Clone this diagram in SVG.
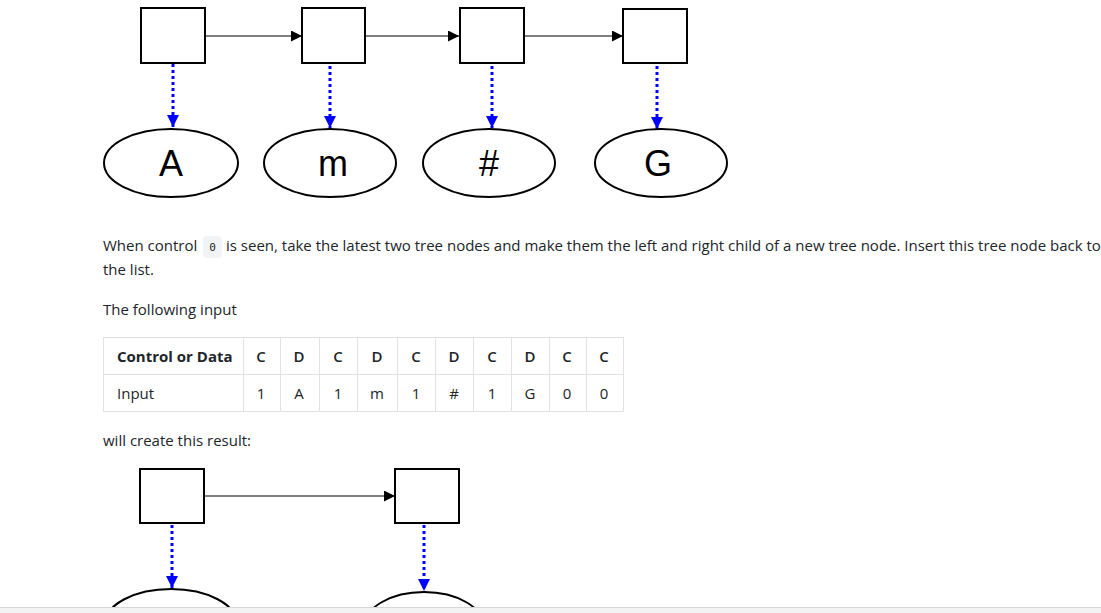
<svg xmlns="http://www.w3.org/2000/svg" width="1101" height="613" viewBox="0 0 1101 613">
<style>
.box{fill:#fff;stroke:#000;stroke-width:2}
.ell{fill:#fff;stroke:#000;stroke-width:2}
.lbl{font-family:"Liberation Sans",Arial,sans-serif;font-size:36px;text-anchor:middle;fill:#000}
.nx{stroke:#000;stroke-width:1.2;fill:none}
.dt{stroke:#00f;stroke-width:3;stroke-dasharray:3,3;fill:none}
.p{font-family:"Open Sans","Noto Sans",sans-serif;font-size:15px;fill:#212529}
.tc{font-family:"Open Sans","Noto Sans",sans-serif;font-size:15px;fill:#212529;text-anchor:middle}
.grid{stroke:#dee2e6;stroke-width:1;fill:none}
</style>
<defs>
<marker id="ab" viewBox="0 0 10 10" refX="10" refY="5" markerWidth="11" markerHeight="11" markerUnits="userSpaceOnUse" orient="auto"><path d="M0,0L10,5L0,10z" fill="#000"/></marker>
<marker id="bb" viewBox="0 0 10 10" refX="10" refY="5" markerWidth="12" markerHeight="12" markerUnits="userSpaceOnUse" orient="auto"><path d="M0,0L10,5L0,10z" fill="#00f"/></marker>
</defs>
<rect width="1101" height="613" fill="#fff"/>
<g id="connectors">
<line class="nx" x1="205" y1="36" x2="302" y2="36" marker-end="url(#ab)"/>
<line class="nx" x1="365" y1="36" x2="459" y2="36" marker-end="url(#ab)"/>
<line class="nx" x1="524" y1="36" x2="623" y2="36" marker-end="url(#ab)"/>
<line class="dt" x1="173" y1="64" x2="173" y2="127" marker-end="url(#bb)"/>
<line class="dt" x1="330" y1="66" x2="330" y2="128" marker-end="url(#bb)"/>
<line class="dt" x1="492" y1="66" x2="492" y2="128" marker-end="url(#bb)"/>
<line class="dt" x1="657" y1="66" x2="657" y2="129" marker-end="url(#bb)"/>
<line class="nx" x1="204" y1="496" x2="395" y2="496" marker-end="url(#ab)"/>
<line class="dt" x1="172" y1="525" x2="172" y2="588" marker-end="url(#bb)"/>
<line class="dt" x1="424" y1="525" x2="424" y2="591" marker-end="url(#bb)"/>
</g>
<g id="n1"><rect class="box" x="141" y="8" width="64" height="55"/></g>
<g id="n2"><rect class="box" x="302" y="8" width="63" height="55"/></g>
<g id="n3"><rect class="box" x="460" y="8" width="64" height="55"/></g>
<g id="n4"><rect class="box" x="623" y="9" width="64" height="54"/></g>
<g id="eA"><ellipse class="ell" cx="171" cy="163" rx="67" ry="34"/><text class="lbl" x="171" y="176">A</text></g>
<g id="em"><ellipse class="ell" cx="330" cy="163" rx="66" ry="34"/><text class="lbl" x="333" y="176">m</text></g>
<g id="eh"><ellipse class="ell" cx="489" cy="163" rx="66" ry="34"/><text class="lbl" x="489" y="176">#</text></g>
<g id="eG"><ellipse class="ell" cx="661" cy="163" rx="66" ry="34"/><text class="lbl" x="658" y="176">G</text></g>
<text class="p" x="103" y="251">When control </text>
<rect x="203" y="236" width="19" height="22" rx="4" fill="#f1f3f5"/>
<text x="212.5" y="251" font-family="'DejaVu Sans Mono',monospace" font-size="11px" fill="#212529" text-anchor="middle">0</text>
<text class="p" x="226" y="251">is seen, take the latest two tree nodes and make them the left and right child of a new tree node. Insert this tree node back to</text>
<text class="p" x="103" y="275">the list.</text>
<text class="p" x="103" y="315">The following input</text>
<g id="table">
<rect class="grid" x="103.5" y="337.5" width="520" height="74"/>
<line class="grid" x1="103" y1="374.5" x2="623" y2="374.5"/>
<path class="grid" d="M243.5 337V411M280.5 337V411M319.5 337V411M357.5 337V411M397.5 337V411M435.5 337V411M473.5 337V411M511.5 337V411M549.5 337V411M586.5 337V411"/>
<text class="p" x="117" y="362" font-weight="bold">Control or Data</text>
<text class="p" x="117" y="399">Input</text>
<g class="tc" font-weight="600">
<text x="261" y="362">C</text><text x="299" y="362">D</text><text x="338" y="362">C</text><text x="377" y="362">D</text><text x="416" y="362">C</text><text x="454" y="362">D</text><text x="492" y="362">C</text><text x="530" y="362">D</text><text x="567" y="362">C</text><text x="604" y="362">C</text>
</g>
<g class="tc">
<text x="261" y="399">1</text><text x="299" y="399">A</text><text x="338" y="399">1</text><text x="377" y="399">m</text><text x="416" y="399">1</text><text x="454" y="399">#</text><text x="492" y="399">1</text><text x="530" y="399">G</text><text x="567" y="399">0</text><text x="604" y="399">0</text>
</g>
</g>
<text class="p" x="103" y="446">will create this result:</text>
<g id="b1"><rect class="box" x="140" y="469" width="64" height="54"/></g>
<g id="b2"><rect class="box" x="395" y="469" width="64" height="54"/></g>
<g id="be1"><ellipse class="ell" cx="171" cy="624" rx="66" ry="35"/></g>
<g id="be2"><ellipse class="ell" cx="424" cy="627" rx="60" ry="35"/></g>
<rect x="0" y="607" width="1101" height="6" fill="#f3f3f3"/>
<line x1="0" y1="607.5" x2="1101" y2="607.5" stroke="#d6d6d6"/>
</svg>
